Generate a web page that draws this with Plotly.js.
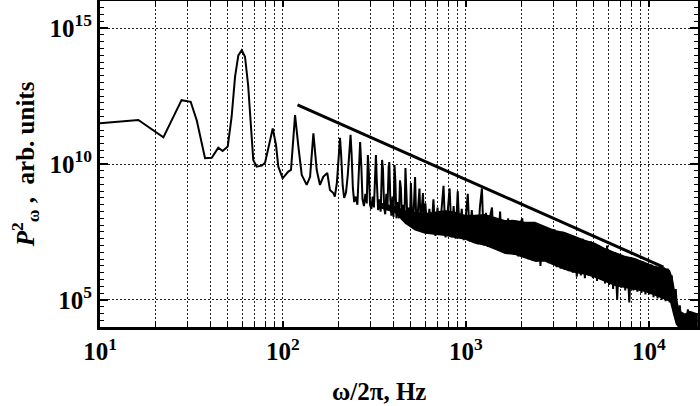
<!DOCTYPE html>
<html><head><meta charset="utf-8">
<script src="https://cdn.plot.ly/plotly-3.0.1.min.js"></script>
<style>html,body{margin:0;padding:0;background:#fff;}#chart{width:700px;height:406px;}</style>
</head><body><div id="chart"></div>
<script>
// Frequencies in Hz; spectral power given as log10 of value (arb. units)
const lowHz  = [10, 16.2, 22.2, 27.9, 31.3, 33.8, 37.5, 40.8, 44.3, 46.8, 49.9, 52.4, 54.7, 57.0, 59.5, 62.0, 64.5, 66.5, 68.8, 71.8, 76.5, 79.8, 83.9, 87.9, 91.6, 94.3, 99.6, 106.9, 110.6, 113.4, 116.4, 121.4, 126.6, 134.8, 140.6, 146.6, 152.9, 159.3, 166.0, 174.6, 180.6, 188.4];
const lowLog = [11.50, 11.62, 10.98, 12.35, 12.29, 11.60, 10.21, 10.23, 10.60, 10.48, 10.64, 11.74, 13.21, 14.00, 14.19, 13.95, 12.90, 11.60, 10.15, 9.90, 9.94, 10.05, 10.70, 11.31, 10.70, 9.90, 9.47, 9.72, 9.78, 10.88, 11.80, 10.64, 9.60, 9.23, 9.53, 11.13, 9.78, 9.23, 9.53, 9.67, 9.04, 8.93];

const combHz  = [192, 197, 202, 205, 208, 212, 216, 221, 226, 231, 234, 237, 241, 245, 250, 255, 260, 264, 268, 272, 277, 282, 287, 291, 295, 299, 304, 309, 314, 319, 322, 326, 331, 337, 342, 348, 352, 357, 362, 367, 372, 378, 381, 386, 391, 397, 402, 407, 411, 417, 423, 430, 436, 441, 447, 454, 461, 467, 472, 479, 487, 494, 500, 507, 515, 522, 527, 533, 541, 549, 557, 565, 573, 582, 590];
const combLog = [8.80, 9.30, 10.40, 10.96, 10.30, 9.20, 8.75, 8.95, 9.60, 10.60, 11.07, 10.40, 9.10, 8.60, 8.80, 8.50, 9.80, 10.81, 9.90, 8.70, 8.45, 8.90, 8.55, 10.33, 9.60, 8.50, 8.35, 8.80, 8.40, 9.70, 10.33, 9.30, 8.30, 8.70, 8.25, 10.15, 9.80, 8.40, 8.15, 8.90, 8.30, 9.90, 10.07, 8.70, 8.10, 8.80, 8.05, 9.96, 9.40, 8.00, 8.60, 8.00, 9.40, 9.10, 7.95, 8.50, 7.95, 9.85, 9.20, 7.90, 8.40, 7.90, 9.30, 8.10, 7.85, 8.60, 9.52, 8.30, 7.80, 8.50, 9.10, 7.80, 8.40, 8.93, 7.75];

const noiseHz  = [600, 615, 631, 647, 664, 681, 699, 717, 735, 754, 773, 793, 814, 835, 856, 878, 901, 924, 948, 972, 997, 1023, 1049, 1076, 1104, 1132, 1161, 1191, 1222, 1253, 1286, 1319, 1353, 1387, 1423, 1460, 1497, 1536, 1575, 1616, 1657, 1700, 1744, 1789, 1835, 1882, 1930, 1980, 2031, 2083, 2137, 2192, 2248, 2306, 2365, 2426, 2489, 2553, 2618, 2686, 2755, 2826, 2898, 2973, 3049, 3128, 3208, 3291, 3375, 3462, 3551, 3643, 3736, 3833, 3931, 4032, 4136, 4243, 4352, 4464, 4578, 4696, 4817, 4941, 5068, 5199, 5332, 5470, 5610, 5755, 5903, 6055, 6211, 6370, 6534, 6703, 6875, 7052, 7234, 7420, 7611, 7807, 8008, 8214, 8425, 8642, 8865, 9093, 9327, 9567, 9814, 10066, 10325, 10591, 10864, 11144, 11431, 11725, 12027, 12337, 12654, 12980, 13315, 13658, 14009, 14370, 14740, 15120, 15509, 15909, 16318, 16738, 17170, 17612, 18065];
const noiseLog = [8.55, 7.45, 8.35, 7.50, 8.70, 7.35, 8.40, 7.45, 8.20, 9.20, 7.30, 8.30, 9.10, 7.30, 8.45, 7.25, 9.00, 7.40, 8.35, 7.20, 8.20, 8.90, 7.15, 8.30, 7.10, 8.10, 7.05, 8.40, 9.10, 7.00, 8.20, 6.95, 8.05, 8.40, 6.90, 8.00, 6.85, 8.25, 6.80, 7.90, 6.70, 8.00, 6.75, 7.95, 6.65, 7.85, 6.60, 7.80, 8.00, 6.55, 7.75, 6.50, 7.80, 6.45, 7.85, 6.40, 7.70, 6.25, 7.60, 6.45, 7.65, 6.35, 7.55, 6.30, 7.60, 6.20, 7.45, 6.15, 7.50, 6.10, 7.40, 6.05, 7.35, 6.00, 7.30, 5.85, 7.20, 5.90, 7.25, 5.80, 7.10, 5.90, 7.15, 5.80, 7.05, 5.70, 7.00, 5.75, 6.90, 5.60, 7.00, 5.55, 6.80, 5.40, 6.75, 5.00, 6.65, 5.45, 6.60, 5.35, 6.55, 4.90, 6.55, 5.35, 6.50, 5.30, 6.45, 5.25, 6.40, 5.20, 6.35, 5.20, 6.30, 5.10, 6.25, 5.05, 6.25, 5.00, 6.20, 4.95, 6.15, 4.90, 5.90, 4.60, 5.40, 4.20, 4.80, 3.95, 4.40, 3.95, 4.65, 4.00, 4.55, 4.05, 4.45];

// Dense body of the noisy spectrum (upper / lower edge, log10)
const bandHz = [330, 409, 464, 526, 597, 677, 768, 871, 988, 1120, 1270, 1440, 1633, 1853, 2100, 2383, 2703, 3065, 3476, 3942, 4470, 5070, 5750, 6520, 7395, 8385, 9510, 10790, 12230, 13020, 13500, 14000, 14770, 15730, 16750, 18500];
const bandHi = [8.60, 8.45, 8.31, 8.24, 8.20, 8.24, 8.31, 8.24, 8.13, 8.13, 8.16, 8.05, 7.94, 7.94, 7.87, 7.87, 7.72, 7.57, 7.50, 7.35, 7.21, 7.10, 6.91, 6.76, 6.62, 6.54, 6.40, 6.25, 6.18, 6.10, 5.80, 5.20, 4.60, 4.50, 4.60, 4.50];
const bandLo = [8.40, 8.20, 7.80, 7.55, 7.43, 7.39, 7.35, 7.28, 7.21, 7.06, 6.99, 6.84, 6.69, 6.65, 6.54, 6.40, 6.40, 6.25, 6.10, 5.99, 5.92, 5.81, 5.66, 5.51, 5.44, 5.37, 5.29, 5.15, 5.00, 4.93, 4.50, 4.10, 3.90, 3.90, 3.90, 3.90];

// Power-law guide line
const fitHz  = [120, 12000];
const fitPow = [1.5e12, 1.6e6];

const xTickVals = [10, 100, 1000, 10000];
const xTickText = ['10<sup>1</sup>', '10<sup>2</sup>', '10<sup>3</sup>', '10<sup>4</sup>'];
const yTickVals = [1e5, 1e10, 1e15];
const yTickText = ['10<sup>5</sup>', '10<sup>10</sup>', '10<sup>15</sup>'];
const xTitle = 'ω/2π, Hz';
const yTitle = '<i>P</i><sup>2</sup><sub>ω</sub> ,  arb. units';

const toVal = a => a.map(v => Math.pow(10, v));
const xMinor = [];
[10, 100, 1000, 10000].forEach(d => { for (let k = 2; k <= 9; k++) xMinor.push(k * d); });

const curveHz = lowHz.concat(combHz, noiseHz);
const curvePow = toVal(lowLog.concat(combLog, noiseLog));

const font = {family: 'Liberation Serif, Times New Roman, serif', color: '#000', weight: 'bold'};
const traces = [
  {x: bandHz, y: toVal(bandHi), mode: 'lines', line: {width: 0, color: '#000'}, hoverinfo: 'skip', showlegend: false},
  {x: bandHz, y: toVal(bandLo), mode: 'lines', fill: 'tonexty', fillcolor: '#000', line: {width: 0, color: '#000'}, hoverinfo: 'skip', showlegend: false},
  {x: curveHz, y: curvePow, mode: 'lines', line: {color: '#000', width: 2}, showlegend: false},
  {x: fitHz, y: fitPow, mode: 'lines', line: {color: '#000', width: 3}, showlegend: false}
];

const gridStyle = {gridcolor: '#222', gridwidth: 1, griddash: '2px,2px'};
const layout = {
  width: 700, height: 406,
  margin: {l: 100, r: 2, t: 1, b: 79},
  paper_bgcolor: '#fff', plot_bgcolor: '#fff',
  showlegend: false,
  xaxis: Object.assign({
    type: 'log', range: [1, 4.268], tickmode: 'array', tickvals: xTickVals, ticktext: xTickText,
    showgrid: true, ticks: 'inside', ticklen: 6, tickwidth: 1.5, tickcolor: '#000',
    showline: true, linecolor: '#000', linewidth: 3, mirror: 'ticks', zeroline: false,
    tickfont: Object.assign({size: 25}, font),
    minor: Object.assign({tickmode: 'array', tickvals: xMinor, showgrid: true, ticks: 'inside', ticklen: 5, tickcolor: '#000', tickwidth: 1}, gridStyle)
  }, gridStyle),
  yaxis: Object.assign({
    type: 'log', range: [4, 16], tickmode: 'array', tickvals: yTickVals, ticktext: yTickText,
    showgrid: true, ticks: 'inside', ticklen: 8, tickwidth: 1.5, tickcolor: '#000',
    showline: true, linecolor: '#000', linewidth: 3, mirror: 'ticks', zeroline: false,
    tickfont: Object.assign({size: 25}, font),
    minor: {dtick: 0.25, tick0: 0, ticks: 'inside', ticklen: 4, tickcolor: '#000', tickwidth: 1, showgrid: false}
  }, gridStyle),
  annotations: [
    {text: xTitle, xref: 'paper', yref: 'paper', x: 0.4666, y: -0.199, xanchor: 'center', yanchor: 'middle', showarrow: false, font: Object.assign({size: 25}, font)},
    {text: yTitle, xref: 'paper', yref: 'paper', x: -0.125, y: 0.5, xanchor: 'center', yanchor: 'middle', textangle: -90, showarrow: false, font: Object.assign({size: 25}, font)}
  ]
};

Plotly.newPlot('chart', traces, layout, {staticPlot: true, displayModeBar: false});
</script>
</body></html>
